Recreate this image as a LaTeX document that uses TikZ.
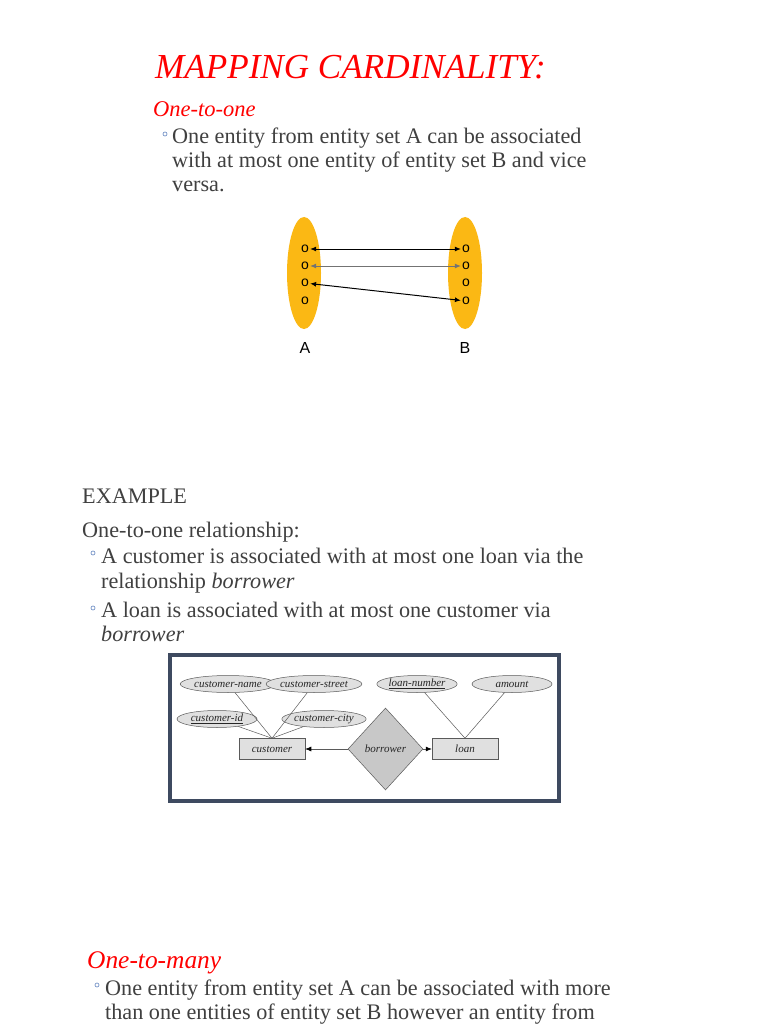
\documentclass[tikz,border=0pt]{standalone}
\usepackage{fontspec}
\setmainfont{Liberation Serif}
\newfontfamily\sansf{Liberation Sans}
\usetikzlibrary{shapes.geometric,arrows.meta}
\definecolor{txt}{RGB}{64,64,64}
\definecolor{bul}{RGB}{120,150,200}
\definecolor{gold}{RGB}{251,184,20}
\definecolor{framec}{RGB}{62,74,96}
\definecolor{erfill}{RGB}{224,224,224}
\definecolor{relfill}{RGB}{200,200,200}
\definecolor{erline}{RGB}{90,90,90}
\begin{document}
\begin{tikzpicture}[x=1pt,y=-1pt,
  body/.style={anchor=base west, inner sep=0, text=txt, font=\fontsize{22.2}{26}\selectfont},
  head/.style={anchor=base west, inner sep=0, text=red, font=\fontsize{22.5}{26}\selectfont\itshape},
  bulletc/.style={circle, draw=bul, line width=0.7pt, minimum size=4pt, inner sep=0},
  setel/.style={ellipse, fill=gold, minimum width=34pt, minimum height=112pt, inner sep=0},
  elem/.style={inner sep=1pt, font=\sansf\fontsize{14}{14}\selectfont},
  setlab/.style={font=\sansf\fontsize{16}{16}\selectfont},
  maparrow/.style={{Latex[length=6pt,width=5pt]}-{Latex[length=6pt,width=5pt]}, line width=1pt},
  attr/.style={ellipse, draw=erline, fill=erfill, line width=0.5pt, minimum width=80pt, minimum height=17pt, inner sep=0, font=\fontsize{11}{12}\selectfont\itshape, text=black!85},
  entity/.style={rectangle, draw=erline, fill=erfill, line width=0.5pt, minimum width=66pt, minimum height=21pt, inner sep=0, font=\fontsize{11}{12}\selectfont\itshape, text=black!85},
  rel/.style={diamond, draw=erline, fill=relfill, line width=0.5pt, minimum width=75pt, minimum height=82pt, inner sep=0, font=\fontsize{11}{12}\selectfont\itshape, text=black!85},
  erlink/.style={draw=erline, line width=0.5pt},
  erarrow/.style={draw=erline, line width=0.6pt, -{Latex[length=6pt,width=5pt,black]}}
]
\useasboundingbox (0,0) rectangle (768,1024);
\fill[white] (0,0) rectangle (768,1024);

% title
\node[anchor=base west, inner sep=0, text=red, font=\fontsize{35.1}{40}\selectfont\itshape] (title) at (155,79) {MAPPING CARDINALITY:};
\node[head] (oto) at (153,117) {One-to-one};
\node[bulletc] (b1) at (165,134) {};
\node[body] (l1) at (172,144) {One entity from entity set A can be associated};
\node[body] (l2) at (172,168) {with at most one entity of entity set B and vice};
\node[body] (l3) at (172,192) {versa.};

% mapping diagram
\node[setel] (setA) at (304,273) {};
\node[setel] (setB) at (465,273) {};
\foreach \i/\y in {1/249,2/266,3/283,4/301}{
  \node[elem] (a\i) at (305,\y) {o};
  \node[elem] (b\i) at (466,\y) {o};
}
\draw[maparrow] (a1) -- (b1);
\draw[maparrow, draw=black!55] (a2) -- (b2);
\draw[maparrow] (a3) -- (b4);
\node[setlab] (labA) at (305,348) {A};
\node[setlab] (labB) at (465,348) {B};

% example text
\node[body] (ex) at (82,503) {EXAMPLE};
\node[body] (otor) at (82,537) {One-to-one relationship:};
\node[bulletc] (b2) at (93,553) {};
\node[body] (c1) at (101,563) {A customer is associated with at most one loan via the};
\node[body] (c2) at (101,588) {relationship \textit{borrower}};
\node[bulletc] (b3) at (93,608) {};
\node[body] (c3) at (101,617) {A loan is associated with at most one customer via};
\node[body] (c4) at (101,641) {\textit{borrower}};

% ER diagram frame
\draw[framec, line width=4pt] (170,655) rectangle (559,801);

\node[attr] (cname) at (228,684) {customer-name};
\node[attr, minimum width=78pt] (cstreet) at (314,684) {customer-street};
\node[attr] (lnum) at (417,684) {\underline{loan-number}};
\node[attr] (amt) at (512,684) {amount};
\node[attr] (cid) at (217,719) {\underline{customer-id}};
\node[attr, minimum width=73pt] (ccity) at (324,719) {customer-city};
\node[entity] (cust) at (272,749) {customer};
\node[entity] (loan) at (465,749) {loan};
\node[rel] (borr) at (385.5,749) {borrower};

\foreach \a in {cname,cstreet,cid,ccity}{\path[erlink] (\a) -- (cust.north);}
\foreach \a in {lnum,amt}{\path[erlink] (\a) -- (loan.north);}
\draw[erarrow] (borr.west) -- (cust.east);
\draw[erarrow] (borr.east) -- (loan.west);

% one-to-many
\node[head, font=\fontsize{25.4}{28}\selectfont\itshape] (otm) at (87,968) {One-to-many};
\node[bulletc] (b4) at (97,985) {};
\node[body] (m1) at (105,995) {One entity from entity set A can be associated with more};
\node[body] (m2) at (105,1019) {than one entities of entity set B however an entity from};
\end{tikzpicture}
\end{document}
